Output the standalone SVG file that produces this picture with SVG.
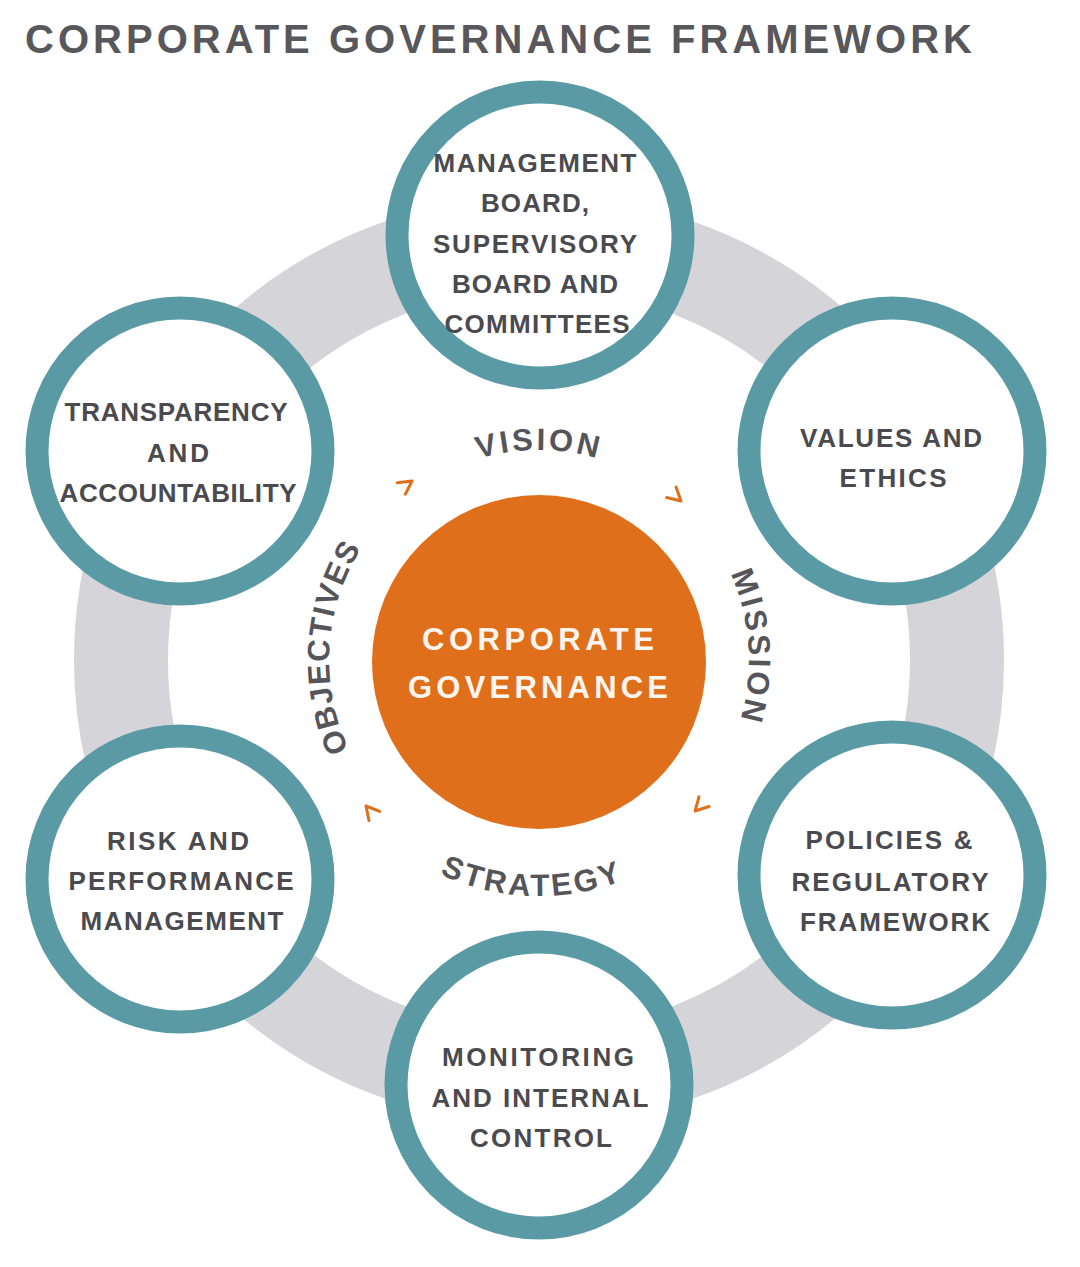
<svg xmlns="http://www.w3.org/2000/svg" width="1080" height="1267" viewBox="0 0 1080 1267">
<style>
.bg{fill:#ffffff}
.ring{fill:none;stroke:#d5d4d8;stroke-width:94}
.node circle{fill:#ffffff;stroke:#5a9aa5;stroke-width:23}
.lbl{font-family:"Liberation Sans",Arial,sans-serif;font-weight:700;font-size:26px;fill:#4a4a4f;text-anchor:middle}
.title{font-family:"Liberation Sans",Arial,sans-serif;font-weight:700;font-size:40px;fill:#58585c}
.core{fill:#e06f1c}
.coretxt{font-family:"Liberation Sans",Arial,sans-serif;font-weight:700;font-size:31px;fill:#fdf5ee;text-anchor:middle}
.arc{font-family:"Liberation Sans",Arial,sans-serif;font-weight:700;font-size:31px;fill:#55555a;letter-spacing:3px}
.chev{fill:none;stroke:#e06f1c;stroke-width:3;stroke-linecap:round;stroke-linejoin:round}
</style>
<defs>
<path id="pVision" d="M 329 660 A 210 210 0 0 1 749 660"/>
<path id="pMission" d="M 539 450 A 210 210 0 0 1 539 870"/>
<path id="pObjectives" d="M 539 870 A 210 210 0 0 1 539 450"/>
<path id="pStrategy" d="M 303 660 A 236 236 0 0 0 775 660"/>
<path id="chev" d="M -13 -7 L 0 0 L -13 7"/>
</defs>
<rect class="bg" x="0" y="0" width="1080" height="1267"/>
<g id="title">
<text class="title" x="25" y="53" textLength="947" lengthAdjust="spacing">CORPORATE GOVERNANCE FRAMEWORK</text>
</g>
<g id="ring">
<circle class="ring" cx="539" cy="660" r="418"/>
</g>
<g id="connectors">
<use href="#chev" class="chev" transform="translate(412 481) rotate(-35)"/>
<use href="#chev" class="chev" transform="translate(681 501) rotate(42)"/>
<use href="#chev" class="chev" transform="translate(695 811) rotate(134)"/>
<use href="#chev" class="chev" transform="translate(366 806) rotate(230)"/>
</g>
<g id="cycle-labels">
<text class="arc"><textPath href="#pVision" startOffset="50%" text-anchor="middle">VISION</textPath></text>
<text class="arc"><textPath href="#pMission" startOffset="48%" text-anchor="middle">MISSION</textPath></text>
<text class="arc" style="letter-spacing:1.5px"><textPath href="#pObjectives" startOffset="52%" text-anchor="middle">OBJECTIVES</textPath></text>
<text class="arc"><textPath href="#pStrategy" startOffset="49%" text-anchor="middle">STRATEGY</textPath></text>
</g>
<g id="node-core">
<circle class="core" cx="539" cy="662" r="167"/>
<text class="coretxt" x="538" y="650" textLength="232" lengthAdjust="spacing">CORPORATE</text>
<text class="coretxt" x="538" y="698" textLength="260" lengthAdjust="spacing">GOVERNANCE</text>
</g>
<g id="node-boards" class="node">
<circle cx="540" cy="235" r="143"/>
<text class="lbl" x="535" y="172" textLength="203" lengthAdjust="spacing">MANAGEMENT</text>
<text class="lbl" x="535" y="212" textLength="108" lengthAdjust="spacing">BOARD,</text>
<text class="lbl" x="535" y="253" textLength="204" lengthAdjust="spacing">SUPERVISORY</text>
<text class="lbl" x="535" y="293" textLength="166" lengthAdjust="spacing">BOARD AND</text>
<text class="lbl" x="537" y="333" textLength="185" lengthAdjust="spacing">COMMITTEES</text>
</g>
<g id="node-values" class="node">
<circle cx="892" cy="451" r="143"/>
<text class="lbl" x="891" y="447" textLength="182" lengthAdjust="spacing">VALUES AND</text>
<text class="lbl" x="893" y="487" textLength="107" lengthAdjust="spacing">ETHICS</text>
</g>
<g id="node-policies" class="node">
<circle cx="892" cy="875" r="143"/>
<text class="lbl" x="889" y="849" textLength="167" lengthAdjust="spacing">POLICIES &amp;</text>
<text class="lbl" x="890" y="891" textLength="197" lengthAdjust="spacing">REGULATORY</text>
<text class="lbl" x="895" y="931" textLength="190" lengthAdjust="spacing">FRAMEWORK</text>
</g>
<g id="node-monitoring" class="node">
<circle cx="539" cy="1085" r="143"/>
<text class="lbl" x="538" y="1066" textLength="192" lengthAdjust="spacing">MONITORING</text>
<text class="lbl" x="540" y="1107" textLength="217" lengthAdjust="spacing">AND INTERNAL</text>
<text class="lbl" x="541" y="1147" textLength="142" lengthAdjust="spacing">CONTROL</text>
</g>
<g id="node-risk" class="node">
<circle cx="180" cy="879" r="143"/>
<text class="lbl" x="178" y="850" textLength="142" lengthAdjust="spacing">RISK AND</text>
<text class="lbl" x="181" y="890" textLength="225" lengthAdjust="spacing">PERFORMANCE</text>
<text class="lbl" x="182" y="930" textLength="203" lengthAdjust="spacing">MANAGEMENT</text>
</g>
<g id="node-transparency" class="node">
<circle cx="180" cy="451" r="143"/>
<text class="lbl" x="176" y="421" textLength="223" lengthAdjust="spacing">TRANSPARENCY</text>
<text class="lbl" x="178" y="462" textLength="62" lengthAdjust="spacing">AND</text>
<text class="lbl" x="178" y="502" textLength="237" lengthAdjust="spacing">ACCOUNTABILITY</text>
</g>
</svg>
